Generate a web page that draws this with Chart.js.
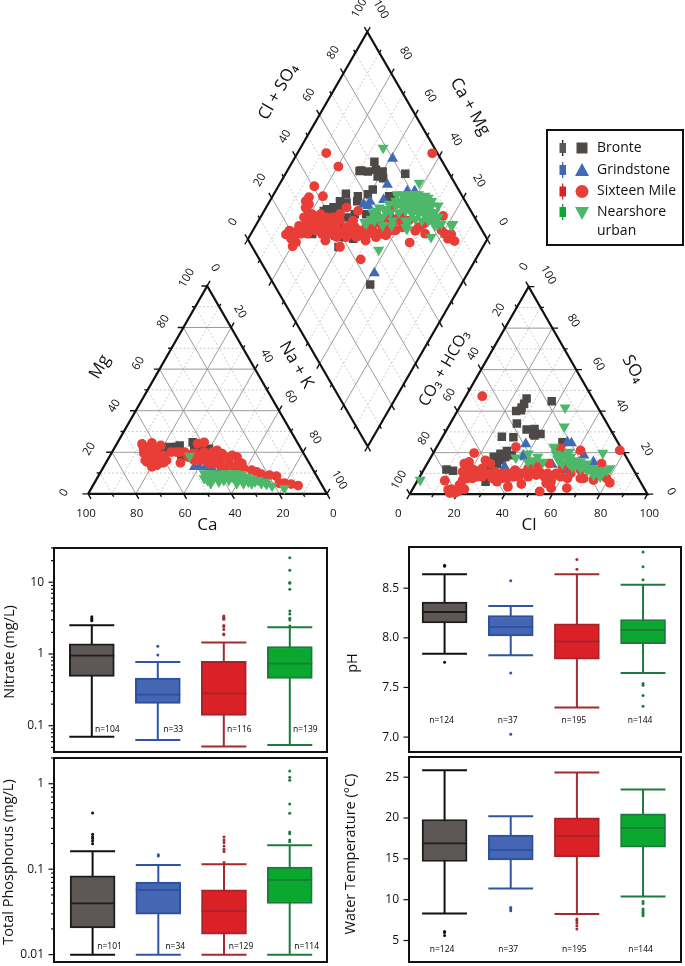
<!DOCTYPE html>
<html><head><meta charset="utf-8">
<style>html,body{margin:0;padding:0;background:#fff;width:685px;height:966px;overflow:hidden}
canvas{position:absolute;left:0;top:0}</style>
<script src="https://cdn.jsdelivr.net/npm/chart.js@4/dist/chart.umd.js"></script>
</head><body>
<canvas id="piper" width="685" height="966"></canvas>
<canvas id="no3" width="685" height="966"></canvas>
<canvas id="tp" width="685" height="966"></canvas>
<canvas id="ph" width="685" height="966"></canvas>
<canvas id="temp" width="685" height="966"></canvas>
<script>
const categories=["Bronte","Grindstone","Sixteen Mile","Nearshore urban"];

/* Diamond: [Cl+SO4, Ca+Mg] */
const diamondBronte=[[71.6,65.8],[64,69.2],[66.5,66.2],[70.3,63.2],[72.7,60],[69.4,60.9],[71.3,58.2],[81.6,50],[64.2,59.8],[61,60.7],[52,70],[56.4,64.4],[54.9,63.5],[47.7,70.7],[50.1,67.6],[46,69],[40.3,74.2],[38.4,73.7],[40.9,72],[43.6,69.3],[38.3,72.2],[40.4,70.2],[69.3,49.9],[28.2,74.4],[35.8,66.9],[37.4,64.4],[44.1,56.1],[19.4,83.3],[36,60.3],[40.2,38],[55.5,56.6],[42.2,65.2],[34,73.4],[63.2,69.8],[70.6,61.3],[38.6,75.1],[43.5,71.9],[36.3,74.2],[43.1,67.4],[46.5,64],[40.4,60.6],[50.7,61.4],[69.4,51.4]];
const diamondGrindstone=[[80,59],[71.5,54.9],[78.2,45],[81.3,41.9],[66.2,52.8],[56.8,60.1],[60.2,58],[58.2,57.9],[47,61.2],[57.9,49.5],[70.5,41.5],[44.7,39],[65.6,44.8]];
const diamondSixteen=[[53.6,88],[55.4,79.7],[40.6,85],[41.8,79],[35.7,84.6],[34,82.9],[31.8,83.4],[33,79],[30,78.9],[25.7,80],[22.9,81.3],[17.1,85.2],[18.2,82],[19.4,79.2],[17,79.6],[33.8,75.9],[34,73.4],[30.4,73.8],[36.3,70.2],[38.7,67.1],[43,66],[48.9,66.4],[52.9,60.8],[40.6,63.6],[32.1,67.3],[41.8,59.3],[45.3,57.3],[48.8,55.4],[48.9,50.5],[54.3,49.9],[56.2,46.4],[58.6,43.3],[63.9,40.4],[52.4,53.5],[36.7,59.7],[42.3,48],[66.8,31.6],[97.8,43.7],[87.2,24.1],[75.4,27.3],[83,21.3],[83.7,16.5],[85.9,13.2],[83.6,19.1],[70.2,46.7],[65.9,47.9],[68.4,42.2],[71.7,37.3],[74.2,31.6],[67.4,38.4],[48.5,60.5],[41,69.5],[33.8,70.4],[28.8,81.8],[28.8,76.3],[35.8,66.9],[37.7,63.4],[44.2,61.7],[47.6,58.2],[55.9,51.5],[59.2,46.6],[63.4,44],[36.4,75.7],[38.3,72.2],[44.6,67.6],[23.4,79.2],[26.2,76.5],[19.5,84.7],[20.3,81.5],[24.7,81.8],[27.9,79.5],[31,77.2],[32,80.9],[33.4,85],[32.3,70.3],[35.8,68.4],[40.2,67.2],[41.2,61.4],[44.7,59.5],[45.9,55.2],[47,60.4],[48.3,53.5],[51.5,51.2],[54,47],[54.1,52.5],[57.6,45],[61.8,42.4],[69,40],[66.2,42.7],[63.6,46.9],[60,48.9],[59.6,52.5],[68,47.3],[72,32.1],[77,30.3],[86.2,16.3]];
const diamondNearshore=[[78.6,65.5],[85.2,42],[52.1,42.8],[77,24],[89.3,18],[75.3,46.3],[78,43.6],[80.8,40.9],[83.1,37.7],[85.4,34.6],[72.3,46.1],[75,43.4],[77.8,40.6],[80.5,37.9],[82.9,34.8],[86,32.4],[87.6,28.6],[69.8,46.3],[72.2,43.2],[74.9,40.5],[77.6,37.7],[80,34.6],[82.7,31.9],[84.6,28.3],[74.7,37.5],[77.4,34.8],[79.7,31.6],[82,28.5],[83.2,24.2],[81.5,25.2],[77.2,31.8],[71.7,37.3],[69,36],[70.3,38.6],[63.4,43.2],[59.6,47],[64.5,49.2],[61.5,49],[58.6,54.3],[60.4,53.3],[53.2,54.3],[57.3,51.6],[64.2,50.3],[62.5,52.7],[88.3,18.3],[73.2,48.4],[75.9,44.2],[79,41.8],[82.1,39.5],[84.5,36.4],[84.9,31.3],[71,47.5],[73.4,44.4],[75.7,41.2],[78.6,38.7],[81.2,35.8],[84,33.2],[72.7,41],[75.5,38.3],[78.2,35.6],[80.5,32.4],[83.3,29.7],[84.8,25.8],[74.8,34.9],[79.9,29],[82.6,26.3],[84.6,22.9],[69.6,43.4],[67.5,49.5],[66.2,46.8],[56.4,53.4],[60.2,50.4],[52.9,55.3],[64.9,44.1],[68.8,37]];

/* Cation triangle: [Ca, Mg] */
const cationBronte=[[53.9,22.5],[51.8,22.5],[43.8,24.8],[44.7,21.7],[38.5,21.7],[52.1,17.7],[57.3,22.5],[41.6,20.9],[56,20.9],[50,23.3],[40.8,22.5]];
const cationGrindstone=[[49,13],[46.9,13],[44.2,13],[42,11.9],[39.9,10.6],[24,8.2],[22,7.9],[33.1,10.6]];
const cationSixteen=[[65.4,24],[61,24.5],[57.9,23.3],[66.9,19.6],[68,16.1],[64.9,15.3],[61.1,14.9],[61.6,19.3],[64.7,20.1],[59.2,18.5],[55.1,20.1],[51.6,20.1],[53.9,14.9],[49.3,17.7],[42.1,24.1],[39,24.8],[44.1,18.5],[40.4,17.7],[35.5,20.9],[36.7,16.9],[32.6,16.9],[28.8,17.7],[28.3,14.6],[36,13],[31.9,13],[25.8,11.4],[22.7,9.5],[19.5,9],[16.9,8.5],[15.3,5.1],[12.7,4.7],[10.1,4],[42,14.6],[46.6,19.3],[37.9,20.1],[33.6,17.7],[64.3,13.8],[64.7,18.5],[64.1,22.5],[61.5,20.9],[65.9,21.7],[67.6,15.3],[66.8,13],[61.9,16.1],[59.1,16.1],[64.4,17.7],[62,16.9],[53,20.1],[49.6,20.1],[45.2,19.3],[41.4,20.1],[37.3,18.5],[34.2,19.3],[30.4,18.5],[29.3,15.3],[33.5,13.8],[37.6,13.8],[40,14.6],[44.7,16.1],[47.5,16.1],[28.8,12.2],[24.2,10.6],[17.4,5.1]];
const cationNearshore=[[48.4,18.2],[16.5,2.7],[46.5,9.8],[46.7,6.6],[44.2,7.4],[41.1,8.2],[38.4,8.2],[42.3,5.9],[36.2,9.8],[33.5,9.8],[30.9,9.5],[37.8,6.6],[34.9,7],[32.3,6.6],[30,5.9],[29.5,8.2],[27.2,5.9],[24.9,5.1],[22.9,4.7],[21.1,3.8],[43,9.8],[35.2,5.1],[44.4,9.8],[42.1,9],[38.9,9.8],[39.9,6.6],[35.6,8.2],[32.9,8.2],[31.2,7.4],[27.8,7.4],[25.5,6.6],[23.1,5.9],[46.1,5.1],[47.7,7.4],[32.4,5.1],[29,5.1],[37,8.2]];

/* Anion triangle: [Cl, SO4] */
const anionBronte=[[26.1,46.1],[26.3,43.6],[37.3,44.8],[24.7,40.1],[26.6,40.4],[28,34.1],[33.6,31.1],[36.8,31.4],[40.5,29],[38.4,28.2],[24.9,27.7],[29.9,27.4],[51.7,25],[9.5,11.9],[12.6,11.3],[28.4,19.5],[30.5,20.8],[26.4,17.9],[30.6,16.3],[26.3,13.9],[28.9,6],[33.6,18.7],[28.8,17.1],[31.2,17.9],[29.3,14.7],[26.2,10],[37.4,29],[26.2,41.7]];
const anionGrindstone=[[36.7,24.2],[53.8,25],[55.7,24.6],[33.3,13.2],[38.4,18.7],[45.1,14.7],[52.7,14.3],[63.9,18.7],[61.2,11.6],[69.5,15.5],[59.2,11.6],[33.7,11.6],[39.4,17.9]];
const anionSixteen=[[6.9,47.2],[77.8,21.1],[33.3,22.7],[61.3,21.1],[17.2,19.8],[15.6,14.7],[17.2,15.5],[11.5,6.5],[16.3,2.4],[19.6,1.3],[21.8,2.4],[18.6,0.5],[18.7,10],[20.5,7.6],[21.3,11.6],[24.3,8.4],[23.7,16.3],[26.6,14.7],[28.3,10],[33.2,8.4],[39.5,3.6],[36.5,10],[38.5,11.6],[44.5,4.9],[42,10],[46.2,10],[50.3,10],[54,1.3],[53,10],[56.4,6],[58,2.9],[56.5,10],[64.6,2.9],[62.5,7.6],[52.5,21.9],[69.4,7.6],[73.3,14.7],[79,7.6],[81.4,5.5],[26.3,8.4],[30.9,7.6],[35,7.6],[43.6,12.4],[47.3,13.2],[51.3,14.7],[39.4,8.4],[66,11.6],[18.7,4.4],[22.6,7.6],[16.9,10.8],[19.5,12.4],[18.9,6.8],[24.3,12.4],[26.9,10],[30.6,10.8],[33.7,6],[34.5,10],[37.1,7.6],[41.5,8.4],[43.4,10],[45.6,8.4],[48.6,9.2],[52.5,8.4],[55.9,8.4],[54.8,5.2],[59.3,8.4],[62.7,10],[57.6,13.2],[68,7.6],[73.9,6.8],[75.1,10],[15.1,2.1],[20.2,2.9],[16.6,0.5]];
const anionNearshore=[[1,6.8],[44.5,41.7],[48.7,32.5],[71.3,19.8],[35.8,17.6],[40.1,19.5],[44.9,17.9],[48.2,15.5],[42,15.5],[49.2,22.7],[51.8,19.5],[56.9,20.3],[54.7,16.3],[58.1,16.3],[60.9,16.3],[64,15.5],[67.2,14.7],[71.1,12.4],[74.3,11.6],[78,12.4],[77.2,11.3],[56.3,18.7],[61.8,13.2],[65.6,12.4],[68.8,11.6],[72.7,9.2],[75.9,8.4],[63,14.7],[53.6,17.1],[56.8,14.7],[59.6,14.7],[62.7,13.9],[66.6,13.2],[69.7,12.4],[73.3,10.8],[76,10.8],[54.2,18.7],[43.7,16.3],[58.7,17.9]];

/* Box plots: per category low whisker, Q1, median, Q3, high whisker, outliers, n */
const no3Low=[0.0703,0.063,0.0515,0.0537], no3Q1=[0.488,0.205,0.139,0.457], no3Med=[0.948,0.271,0.283,0.733], no3Q3=[1.39,0.463,0.79,1.27], no3High=[2.51,0.773,1.44,2.36];
const no3Out=[[2.9,3.0,3.11,3.3],[0.97,1.28],[1.86,1.9,2.2,2.41,2.5,3.05,3.1,3.25,3.39],[2.45,2.98,3.14,3.6,3.98,8,9.7,9.9,14.7,21.9]];
const no3N=["n=104","n=33","n=116","n=139"];
const no3Ticks=[0.05,0.06,0.07,0.08,0.09,0.1,0.2,0.3,0.4,0.5,0.6,0.7,0.8,0.9,1,2,3,4,5,6,7,8,9,10,20,30];
const no3Major=[0.1,1,10];

const tpLow=[0.01,0.01,0.01,0.01], tpQ1=[0.0205,0.0298,0.0173,0.0397], tpMed=[0.0397,0.0574,0.0323,0.0751], tpQ3=[0.0836,0.0705,0.0574,0.106], tpHigh=[0.162,0.112,0.114,0.191];
const tpOut=[[0.198,0.214,0.228,0.24,0.256,0.455],[0.143,0.148],[0.12,0.161,0.171,0.187,0.205,0.22,0.238],[0.21,0.22,0.26,0.273,0.45,0.579,1.10,1.19,1.41]];
const tpN=["n=101","n=34","n=129","n=114"];
const tpTicks=[0.01,0.02,0.03,0.04,0.05,0.06,0.07,0.08,0.09,0.1,0.2,0.3,0.4,0.5,0.6,0.7,0.8,0.9,1,2];
const tpMajor=[0.01,0.1,1];

const phLow=[7.84,7.825,7.297,7.647], phQ1=[8.15,8.02,7.785,7.94], phMed=[8.26,8.11,7.963,8.077], phQ3=[8.36,8.225,8.14,8.185], phHigh=[8.64,8.32,8.64,8.534];
const phOut=[[7.755,8.72,8.73],[7.03,7.647,8.575],[8.69,8.79],[7.31,7.418,7.523,7.54,8.585,8.716,8.864]];
const phN=["n=124","n=37","n=195","n=144"];
const phTicks=[7,7.5,8,8.5];

const tempLow=[8.32,11.36,8.24,10.38], tempQ1=[14.68,14.88,15.24,16.42], tempMed=[16.9,16.09,17.8,18.8], tempQ3=[19.82,17.9,20.02,20.5], tempHigh=[25.85,20.22,25.57,23.5];
const tempOut=[[5.6,5.97,6.09],[8.64,8.85,9.05],[6.42,6.82,7.15,7.43,7.63],[8.04,8.24,8.44,8.64,8.85,9.53,9.78]];
const tempN=["n=124","n=37","n=195","n=144"];
const tempTicks=[5,10,15,20,25];

const FONT='"Open Sans"';
const markerColors=["#4c4947","#3f6ab5","#e83e37","#4db86a"];
const boxFill=["#5d5856","#4566b3","#db2128","#0aa82e"];
const boxEdge=["#1f1c1c","#2c4f9f","#a6232a","#1c7a3c"];
const whisker=["#111111","#2f55a4","#a52a2e","#1f7a40"];
const dotColor=["#111111","#2f55a4","#a52a2e","#1f7a40"];

/* ---------- Piper geometry ---------- */
const LT={L:[83.3,494],R:[326.7,494],T:[204.6,283.3]};
const RT={L:[411,494.3],R:[653.3,494.3],T:[532.2,284]};
const DI={B:[368.2,446],R:[490,236],L:[246,236],T:[368.2,25]};
const bary=(t,a,b,c)=>({x:(t.L[0]*a+t.R[0]*b+t.T[0]*c)/100,y:(t.L[1]*a+t.R[1]*b+t.T[1]*c)/100});
const lt=(ca,mg)=>bary(LT,ca,100-ca-mg,mg);          /* L=Ca, R=Na+K, T=Mg */
const rt=(cl,so)=>bary(RT,100-cl-so,cl,so);          /* L=CO3, R=Cl, T=SO4 */
const di=(s,c)=>({x:DI.B[0]+(DI.R[0]-DI.B[0])*s/100+(DI.L[0]-DI.B[0])*c/100,
                  y:DI.B[1]+(DI.R[1]-DI.B[1])*s/100+(DI.L[1]-DI.B[1])*c/100});
const GAP={x:NaN,y:NaN};
const levels=[10,20,30,40,50,60,70,80,90];
const tickLevels=[0,10,20,30,40,50,60,70,80,90,100];
const solid=[],dashed=[],ticks=[],frames=[];
function addSeg(arr,p,q){arr.push(p,q,GAP);}
function triFamily(t,i,j,k){ /* constant comp i, edge where comp j = 0 carries the ticks */
  const pt=(v,cj,ck)=>{const c=[0,0,0];c[i]=v;c[j]=cj;c[k]=ck;return bary(t,c[0],c[1],c[2]);};
  levels.forEach(v=>addSeg(v%20===0?solid:dashed,pt(v,0,100-v),pt(v,100-v,0)));
  tickLevels.forEach(v=>{const len=v%20===0?2.4:1.4;addSeg(ticks,pt(v,0,100-v),pt(v,-len,100-v+len));});
}
[[2,1,0],[0,2,1],[1,0,2]].forEach(f=>triFamily(LT,f[0],f[1],f[2]));
[[2,0,1],[1,2,0],[0,1,2]].forEach(f=>triFamily(RT,f[0],f[1],f[2]));
levels.forEach(v=>{const st=v%20===0?solid:dashed;addSeg(st,di(v,0),di(v,100));addSeg(st,di(0,v),di(100,v));});
tickLevels.forEach(v=>{const len=v%20===0?2.4:1.4;
  addSeg(ticks,di(v,0),di(v,-len));addSeg(ticks,di(v,100),di(v,100+len));
  addSeg(ticks,di(0,v),di(-len,v));addSeg(ticks,di(100,v),di(100+len,v));});
[LT,RT].forEach(t=>{frames.push(bary(t,100,0,0),bary(t,0,100,0),bary(t,0,0,100),bary(t,100,0,0),GAP);});
frames.push(di(0,0),di(100,0),di(100,100),di(0,100),di(0,0));

const pointStyles=[{pointStyle:'rect',pointRadius:6,rotation:0},{pointStyle:'triangle',pointRadius:6.4,rotation:0},{pointStyle:'circle',pointRadius:4.9,rotation:0},{pointStyle:'triangle',pointRadius:6.4,rotation:180}];
function marks(i,rows,fn){const s=pointStyles[i];return{type:'scatter',data:rows.map(r=>fn(r[0],r[1])),showLine:false,
  pointStyle:s.pointStyle,pointRadius:s.pointRadius,rotation:s.rotation,backgroundColor:markerColors[i],borderWidth:0,pointBorderWidth:0};}
function lineSet(data,color,w,dash,order){return{type:'scatter',data,showLine:true,borderColor:color,borderWidth:w,borderDash:dash||[],pointRadius:0,tension:0,order,spanGaps:false};}

const tickNums=[100,80,60,40,20,0];
const ascNums=[0,20,40,60,80,100];
const rotL=-Math.PI/3,rotR=Math.PI/3;
const piperLabels=[];
function L(t,x,y,r,s){piperLabels.push([String(t),x,y,r,s]);}
const N=11.5,T=17;
/* cation */
[[86,513.3],[136.7,513.3],[185,513.3],[235,513.3],[283,513.3],[333.3,513.3]].forEach((p,i)=>L(tickNums[i],p[0],p[1],0,N));
[[64,492.7],[89.3,449],[114.3,406],[138.3,363.3],[163.3,321.7],[186.7,278]].forEach((p,i)=>L(ascNums[i],p[0],p[1],rotL,N));
[[215,268],[240,311.7],[266.7,356],[290.7,396.7],[315,437.3],[339.3,480]].forEach((p,i)=>L(ascNums[i],p[0],p[1],rotR,N));
L("Mg",100,367,rotL,T);L("Na + K",296,365,rotR,T);L("Ca",207.3,525,0,T);
/* anion */
[[398.3,513.3],[454,513.3],[502.3,513.3],[550.7,513.3],[600.7,513.3],[649.3,513.3]].forEach((p,i)=>L(ascNums[i],p[0],p[1],0,N));
[[524,266.7],[499,310],[473.3,354],[449.3,395],[424.3,438.3],[399,480]].forEach((p,i)=>L(ascNums[i],p[0],p[1],rotL,N));
[[548.3,275],[573.3,320.7],[598.3,364],[621.7,405.7],[646.7,449.3],[671,491.7]].forEach((p,i)=>L(tickNums[i],p[0],p[1],rotR,N));
L("CO₃ + HCO₃",444.3,368.3,rotL,16);L("SO₄",633.3,369,rotR,T);L("Cl",529,525,0,T);
/* diamond */
[[233,222],[260,180],[285,136.7],[309,95],[333.3,52.7],[359.3,8.3]].forEach((p,i)=>L(ascNums[i],p[0],p[1],rotL,N));
[[380.7,9.3],[405.7,53.3],[430,95.7],[455.7,139.3],[479,180.7],[503,222]].forEach((p,i)=>L(tickNums[i],p[0],p[1],rotR,N));
L("Cl + SO₄",278.3,91.7,rotL,T);L("Ca + Mg",470,106.7,rotR,T);

const legendLines=["Bronte","Grindstone","Sixteen Mile","Nearshore"];
const legendExtra="urban";
const piperPlugin={id:'piperText',afterDraw(ch){
  const c=ch.ctx;c.save();c.fillStyle='#111';c.textAlign='center';c.textBaseline='middle';
  piperLabels.forEach(l=>{c.save();c.translate(l[1],l[2]);c.rotate(l[3]);c.font=l[4]+'px '+FONT;c.fillText(l[0],0,0);c.restore();});
  /* legend */
  c.lineWidth=2;c.strokeStyle='#111';c.strokeRect(547,130,136,115);
  const ys=[148,170,191.5,212];
  c.textAlign='left';c.font='14px '+FONT;
  legendLines.forEach((t,i)=>{
    c.fillStyle='#111';c.fillText(t,597,ys[i]);
    c.strokeStyle=whisker[i];c.lineWidth=1.2;c.beginPath();c.moveTo(562.7,ys[i]-8);c.lineTo(562.7,ys[i]+8);c.stroke();
    c.fillStyle=boxFill[i];c.fillRect(559.5,ys[i]-5,6.5,10);
    const s=pointStyles[i];
    c.fillStyle=markerColors[i];
    c.beginPath();
    if(s.pointStyle==='circle'){c.arc(582,ys[i],6.5,0,7);}
    else if(s.pointStyle==='rect'){c.rect(576.5,ys[i]-5.5,11,11);}
    else if(s.rotation===0){c.moveTo(582,ys[i]-7);c.lineTo(589,ys[i]+6);c.lineTo(575,ys[i]+6);c.closePath();}
    else{c.moveTo(582,ys[i]+8);c.lineTo(589,ys[i]-5);c.lineTo(575,ys[i]-5);c.closePath();}
    c.fill();
  });
  c.fillStyle='#111';c.fillText(legendExtra,597,231.5);
  c.restore();
}};

const base={animation:false,responsive:false,events:[],plugins:{legend:{display:false},tooltip:{enabled:false}}};
new Chart(document.getElementById('piper'),{type:'scatter',
  data:{datasets:[
    marks(3,diamondNearshore,di),marks(3,cationNearshore,lt),marks(3,anionNearshore,rt),
    marks(2,diamondSixteen,di),marks(2,cationSixteen,lt),marks(2,anionSixteen,rt),
    marks(1,diamondGrindstone,di),marks(1,cationGrindstone,lt),marks(1,anionGrindstone,rt),
    marks(0,diamondBronte,di),marks(0,cationBronte,lt),marks(0,anionBronte,rt),
    lineSet(frames,'#111',2.2,[],20),lineSet(ticks,'#111',1.4,[],21),
    lineSet(solid,'#9a9a9a',1,[],22),lineSet(dashed,'#b5b5b5',0.7,[2,2],23)
  ]},
  options:{...base,layout:{padding:0},scales:{x:{type:'linear',min:0,max:685,display:false},y:{type:'linear',min:0,max:966,reverse:true,display:false}}},
  plugins:[piperPlugin]});

/* ---------- Box plots ---------- */
const boxPlugin={id:'boxDeco',afterDraw(ch,a,o){
  const c=ch.ctx,ar=ch.chartArea,ys=ch.scales.y,xs=ch.scales.x;c.save();
  c.strokeStyle='#111';c.lineWidth=1.2;
  o.tickValues.forEach(v=>{const y=ys.getPixelForValue(v);const major=o.major.includes(v);
    c.beginPath();c.moveTo(ar.left,y);c.lineTo(ar.left-(major?5.5:3),y);c.stroke();});
  c.lineWidth=2;c.strokeRect(ar.left,ar.top,ar.right-ar.left,ar.bottom-ar.top);
  c.fillStyle='#000';c.textAlign='center';c.textBaseline='middle';
  c.font='8.5px '+FONT;
  o.n.forEach((t,i)=>c.fillText(t,xs.getPixelForValue(i+1)+o.nDx,ys.getPixelForValue(o.nY)));
  c.font='14.5px '+FONT;c.fillStyle='#111';c.translate(o.titleX,o.titleY);c.rotate(-Math.PI/2);c.fillText(o.title,0,0);
  c.restore();
}};
function boxChart(id,p){
  const W=p.right-p.left,xmin=1-(p.c1-p.left)/p.step,xmax=xmin+W/p.step,cap=22.5/p.step;
  const ds=[];
  const xs=categories.map((_,i)=>i+1);
  ds.push({type:'bar',data:xs.map((x,i)=>({x,y:[p.q1[i],p.q3[i]]})),backgroundColor:boxFill,borderColor:boxEdge,borderWidth:2,borderSkipped:false,barThickness:45,order:2});
  xs.forEach((x,i)=>{
    ds.push({type:'line',data:[{x:x-cap,y:p.med[i]},{x:x+cap,y:p.med[i]}],borderColor:boxEdge[i],borderWidth:1.8,pointRadius:0,order:1});
    ds.push({type:'line',data:[{x:x-cap,y:p.low[i]},{x:x+cap,y:p.low[i]},{x,y:p.low[i]},{x,y:p.high[i]},{x:x-cap,y:p.high[i]},{x:x+cap,y:p.high[i]}],borderColor:whisker[i],borderWidth:2,pointRadius:0,tension:0,order:3});
    ds.push({type:'scatter',data:p.out[i].map(y=>({x,y})),showLine:false,pointRadius:1.5,backgroundColor:dotColor[i],borderWidth:0,order:4});
  });
  const tv=p.ticks;
  new Chart(document.getElementById(id),{type:'bar',data:{datasets:ds},
    options:{...base,
      plugins:{...base.plugins,boxDeco:{tickValues:tv,major:p.major,n:p.n,nDx:p.nDx,nY:p.nY,title:p.title,titleX:p.titleX,titleY:p.titleY}},
      layout:{padding:{left:0,right:685-p.right,top:p.top,bottom:966-p.bottom}},
      scales:{
        x:{type:'linear',min:xmin,max:xmax,display:false,offset:false},
        y:{type:p.log?'logarithmic':'linear',min:p.min,max:p.max,
           afterFit(s){s.width=p.left;s.paddingTop=0;s.paddingBottom=0;s.paddingLeft=0;s.paddingRight=0;},
           afterBuildTicks(s){s.ticks=tv.map(v=>({value:v}));},
           grid:{display:false,drawTicks:false},border:{display:false},
           ticks:{padding:10,autoSkip:false,maxRotation:0,minRotation:0,color:'#111',font:{family:'Open Sans',size:12},
             callback:v=>p.major.includes(v)?p.fmt(v):''}}
      }},plugins:[boxPlugin]});
}
boxChart('no3',{log:true,left:54,right:327,top:548,bottom:752,c1:91.8,step:66,min:0.043,max:30,low:no3Low,q1:no3Q1,med:no3Med,q3:no3Q3,high:no3High,out:no3Out,n:no3N,nDx:15.5,nY:0.087,ticks:no3Ticks,major:no3Major,fmt:v=>String(v),title:'Nitrate (mg/L)',titleX:9.5,titleY:652});
boxChart('tp',{log:true,left:54,right:327,top:758,bottom:963,c1:92.6,step:65.7,min:0.0082,max:2,low:tpLow,q1:tpQ1,med:tpMed,q3:tpQ3,high:tpHigh,out:tpOut,n:tpN,nDx:17,nY:0.0124,ticks:tpTicks,major:tpMajor,fmt:v=>String(v),title:'Total Phosphorus (mg/L)',titleX:8.5,titleY:862});
boxChart('ph',{log:false,left:409,right:682,top:547,bottom:752,c1:444.7,step:66.4,min:6.85,max:8.915,low:phLow,q1:phQ1,med:phMed,q3:phQ3,high:phHigh,out:phOut,n:phN,nDx:-3,nY:7.17,ticks:phTicks,major:phTicks,fmt:v=>v.toFixed(1),title:'pH',titleX:353,titleY:663});
boxChart('temp',{log:false,left:409,right:682,top:757,bottom:965,c1:444.7,step:66.4,min:2.37,max:27.47,low:tempLow,q1:tempQ1,med:tempMed,q3:tempQ3,high:tempHigh,out:tempOut,n:tempN,nDx:-2.5,nY:3.87,ticks:tempTicks,major:tempTicks,fmt:v=>String(v),title:'Water Temperature (°C)',titleX:351,titleY:854});
</script>
</body></html>
